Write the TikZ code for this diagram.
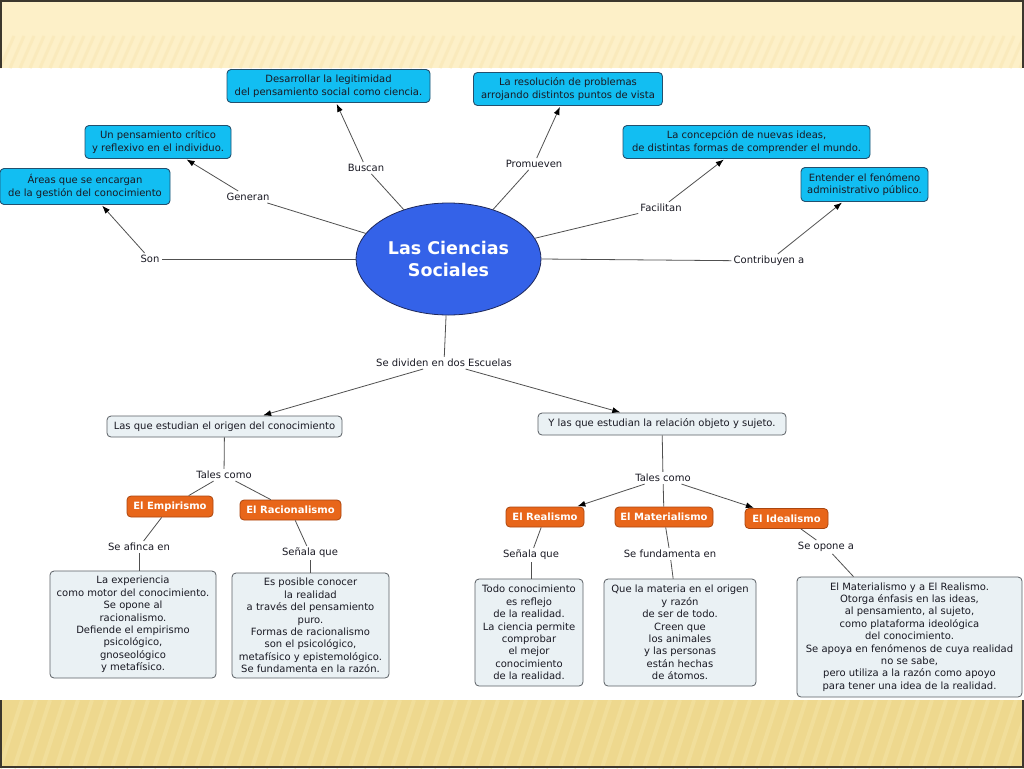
\documentclass[tikz,border=0pt]{standalone}
\usepackage{fontspec}
\setmainfont{DejaVu Sans}
\usetikzlibrary{arrows.meta,shapes.geometric}
\definecolor{cyanfill}{RGB}{18,190,242}
\definecolor{cyanline}{RGB}{35,80,110}
\definecolor{grayfill}{RGB}{234,241,244}
\definecolor{grayline}{RGB}{90,95,100}
\definecolor{orfill}{RGB}{232,102,26}
\definecolor{orline}{RGB}{170,70,15}
\definecolor{ellfill}{RGB}{52,98,232}
\definecolor{ellline}{RGB}{30,40,90}
\definecolor{topban}{RGB}{253,240,200}
\definecolor{topstripe}{RGB}{250,234,188}
\definecolor{botban}{RGB}{238,216,142}
\definecolor{botstripe}{RGB}{241,222,154}
\definecolor{edgecol}{RGB}{60,55,45}
\definecolor{conncol}{RGB}{80,80,80}
\definecolor{txtcol}{RGB}{25,25,35}
\begin{document}
\begin{tikzpicture}[x=1pt,y=-1pt,
  cbox/.style={draw=cyanline, fill=cyanfill, rounded corners=4pt, align=center, font=\fontsize{10}{12.5}\selectfont, text=txtcol, line width=0.9pt, inner sep=0pt},
  gbox/.style={draw=grayline, fill=grayfill, rounded corners=4pt, align=center, font=\fontsize{10}{12.4}\selectfont, text=txtcol, line width=0.8pt, inner sep=0pt},
  obox/.style={draw=orline, fill=orfill, rounded corners=4pt, font=\bfseries\fontsize{10}{12}\selectfont, text=white, line width=0.8pt, inner sep=0pt},
  lab/.style={font=\fontsize{10}{12}\selectfont, text=txtcol, inner sep=2pt},
  conn/.style={draw=conncol, line width=0.8pt},
  arr/.style={conn, -{Latex[length=8pt,width=6pt,color=black]}, shorten >=1pt},
]
\useasboundingbox (0,0) rectangle (1024,768);
% background
\fill[white] (0,0) rectangle (1024,768);
\fill[topban] (0,0) rectangle (1024,68);
\fill[botban] (0,700) rectangle (1024,768);
\begin{scope}
\clip (0,36) rectangle (1024,68);
\foreach \k in {0,10,...,1100} {
  \draw[topstripe, line width=3pt] (\k,68) -- (\k+14,36);
}
\end{scope}
\begin{scope}
\clip (0,700) rectangle (1024,768);
\foreach \k in {0,14,...,1100} {
  \draw[botstripe, line width=4pt] (\k,768) -- (\k+22,700);
}
\end{scope}
\draw[edgecol, line width=2pt] (1,68) -- (1,1) -- (1023,1) -- (1023,68);
\draw[edgecol, line width=2pt] (1,700) -- (1,767) -- (1023,767) -- (1023,700);

% central ellipse
\node[ellipse, draw=ellline, fill=ellfill, line width=0.8pt, minimum width=185pt, minimum height=112pt, inner sep=0pt, text=white, font=\bfseries\fontsize{17.5}{22}\selectfont, align=center] (cs) at (448.5,259) {Las Ciencias\\Sociales};

% top boxes
\node[cbox, minimum width=203pt, minimum height=33pt] (b1) at (328.5,86) {Desarrollar la legitimidad\\del pensamiento social como ciencia.};
\node[cbox, minimum width=189pt, minimum height=33pt] (b2) at (568,89) {La resolución de problemas\\arrojando distintos puntos de vista};
\node[cbox, minimum width=146pt, minimum height=33pt] (b3) at (158,142) {Un pensamiento crítico\\y reflexivo en el individuo.};
\node[cbox, minimum width=170pt, minimum height=36pt] (b4) at (85,186.5) {Áreas que se encargan\\de la gestión del conocimiento};
\node[cbox, minimum width=247pt, minimum height=33pt] (b5) at (746.5,142) {La concepción de nuevas ideas,\\de distintas formas de comprender el mundo.};
\node[cbox, minimum width=127pt, minimum height=34pt] (b6) at (864.5,184.5) {Entender el fenómeno\\administrativo público.};

% top labels
\node[lab] (lbus) at (366,168) {Buscan};
\node[lab] (lpro) at (534,164) {Promueven};
\node[lab] (lgen) at (248,197) {Generan};
\node[lab] (lson) at (150,259) {Son};
\node[lab] (lfac) at (661,208) {Facilitan};
\node[lab] (lcon) at (769,261) {Contribuyen a};

\draw[conn] (cs) -- (lbus);
\draw[arr] (lbus) -- (b1);
\draw[conn] (cs) -- (lpro);
\draw[arr] (lpro) -- (b2);
\draw[conn] (cs) -- (lgen);
\draw[arr] (lgen) -- (b3);
\draw[conn] (cs.west) -- (lson);
\draw[arr] (lson) -- (b4);
\draw[conn] (cs) -- (lfac);
\draw[arr] (lfac) -- (b5);
\draw[conn] (cs.east) -- (lcon);
\draw[arr] (lcon) -- (b6);

% schools
\node[lab] (ldiv) at (444,363) {Se dividen en dos Escuelas};
\draw[conn] (cs) -- (ldiv);
\node[gbox, minimum width=235pt, minimum height=21pt] (sl) at (224.5,426.5) {Las que estudian el origen del conocimiento};
\node[gbox, minimum width=248pt, minimum height=22pt] (sr) at (662,424) {Y las que estudian la relación objeto y sujeto.};
\draw[arr] (ldiv) -- (sl);
\draw[arr] (ldiv) -- (sr);

% left branch
\node[lab] (ltl) at (224,475) {Tales como};
\draw[conn] (sl) -- (ltl);
\node[obox, minimum width=86pt, minimum height=21pt] (emp) at (170,506.5) {El Empirismo};
\node[obox, minimum width=101pt, minimum height=20pt] (rac) at (290.5,510) {El Racionalismo};
\draw[conn] (ltl) -- (emp);
\draw[conn] (ltl) -- (rac);
\node[lab] (lafi) at (139,547) {Se afinca en};
\node[lab] (lsq1) at (310,553) {Señala que};
\draw[conn] (emp) -- (lafi);
\draw[conn] (rac) -- (lsq1);
\node[gbox, minimum width=166pt, minimum height=107pt] (tle) at (133,624.5) {La experiencia\\como motor del conocimiento.\\Se opone al\\racionalismo.\\Defiende el empirismo\\psicológico,\\gnoseológico\\y metafísico.};
\node[gbox, minimum width=157pt, minimum height=105pt] (tlr) at (310.5,625.5) {Es posible conocer\\la realidad\\a través del pensamiento\\puro.\\Formas de racionalismo\\son el psicológico,\\metafísico y epistemológico.\\Se fundamenta en la razón.};
\draw[conn] (lafi.south) -- (lafi.south |- tle.north);
\draw[conn] (lsq1.south) -- (lsq1.south |- tlr.north);

% right branch
\node[lab] (ltr) at (663,478) {Tales como};
\draw[conn] (sr) -- (ltr);
\node[obox, minimum width=78pt, minimum height=20pt] (rea) at (545,517) {El Realismo};
\node[obox, minimum width=98pt, minimum height=20pt] (mat) at (664,517) {El Materialismo};
\node[obox, minimum width=83pt, minimum height=20pt] (ide) at (786.5,518.5) {El Idealismo};
\draw[arr] (ltr) -- (rea);
\draw[conn] (ltr) -- (mat);
\draw[arr] (ltr) -- (ide);
\node[lab] (lsq2) at (531,555) {Señala que};
\node[lab] (lfun) at (670,554) {Se fundamenta en};
\node[lab] (lopo) at (826,547) {Se opone a};
\draw[conn] (rea) -- (lsq2);
\draw[conn] (mat) -- (lfun);
\draw[conn] (ide) -- (lopo);
\node[gbox, minimum width=108pt, minimum height=107pt] (trr) at (529,632.5) {Todo conocimiento\\es reflejo\\de la realidad.\\La ciencia permite\\comprobar\\el mejor\\conocimiento\\de la realidad.};
\node[gbox, minimum width=152pt, minimum height=107pt] (trm) at (680,632.5) {Que la materia en el origen\\y razón\\de ser de todo.\\Creen que\\los animales\\y las personas\\están hechas\\de átomos.};
\node[gbox, minimum width=225pt, minimum height=120pt] (tri) at (909.5,637) {El Materialismo y a El Realismo.\\Otorga énfasis en las ideas,\\al pensamiento, al sujeto,\\como plataforma ideológica\\del conocimiento.\\Se apoya en fenómenos de cuya realidad\\no se sabe,\\pero utiliza a la razón como apoyo\\para tener una idea de la realidad.};
\draw[conn] (lsq2.south) -- (lsq2.south |- trr.north);
\draw[conn] (lfun) -- (trm);
\draw[conn] (lopo) -- (tri);
\end{tikzpicture}
\end{document}
